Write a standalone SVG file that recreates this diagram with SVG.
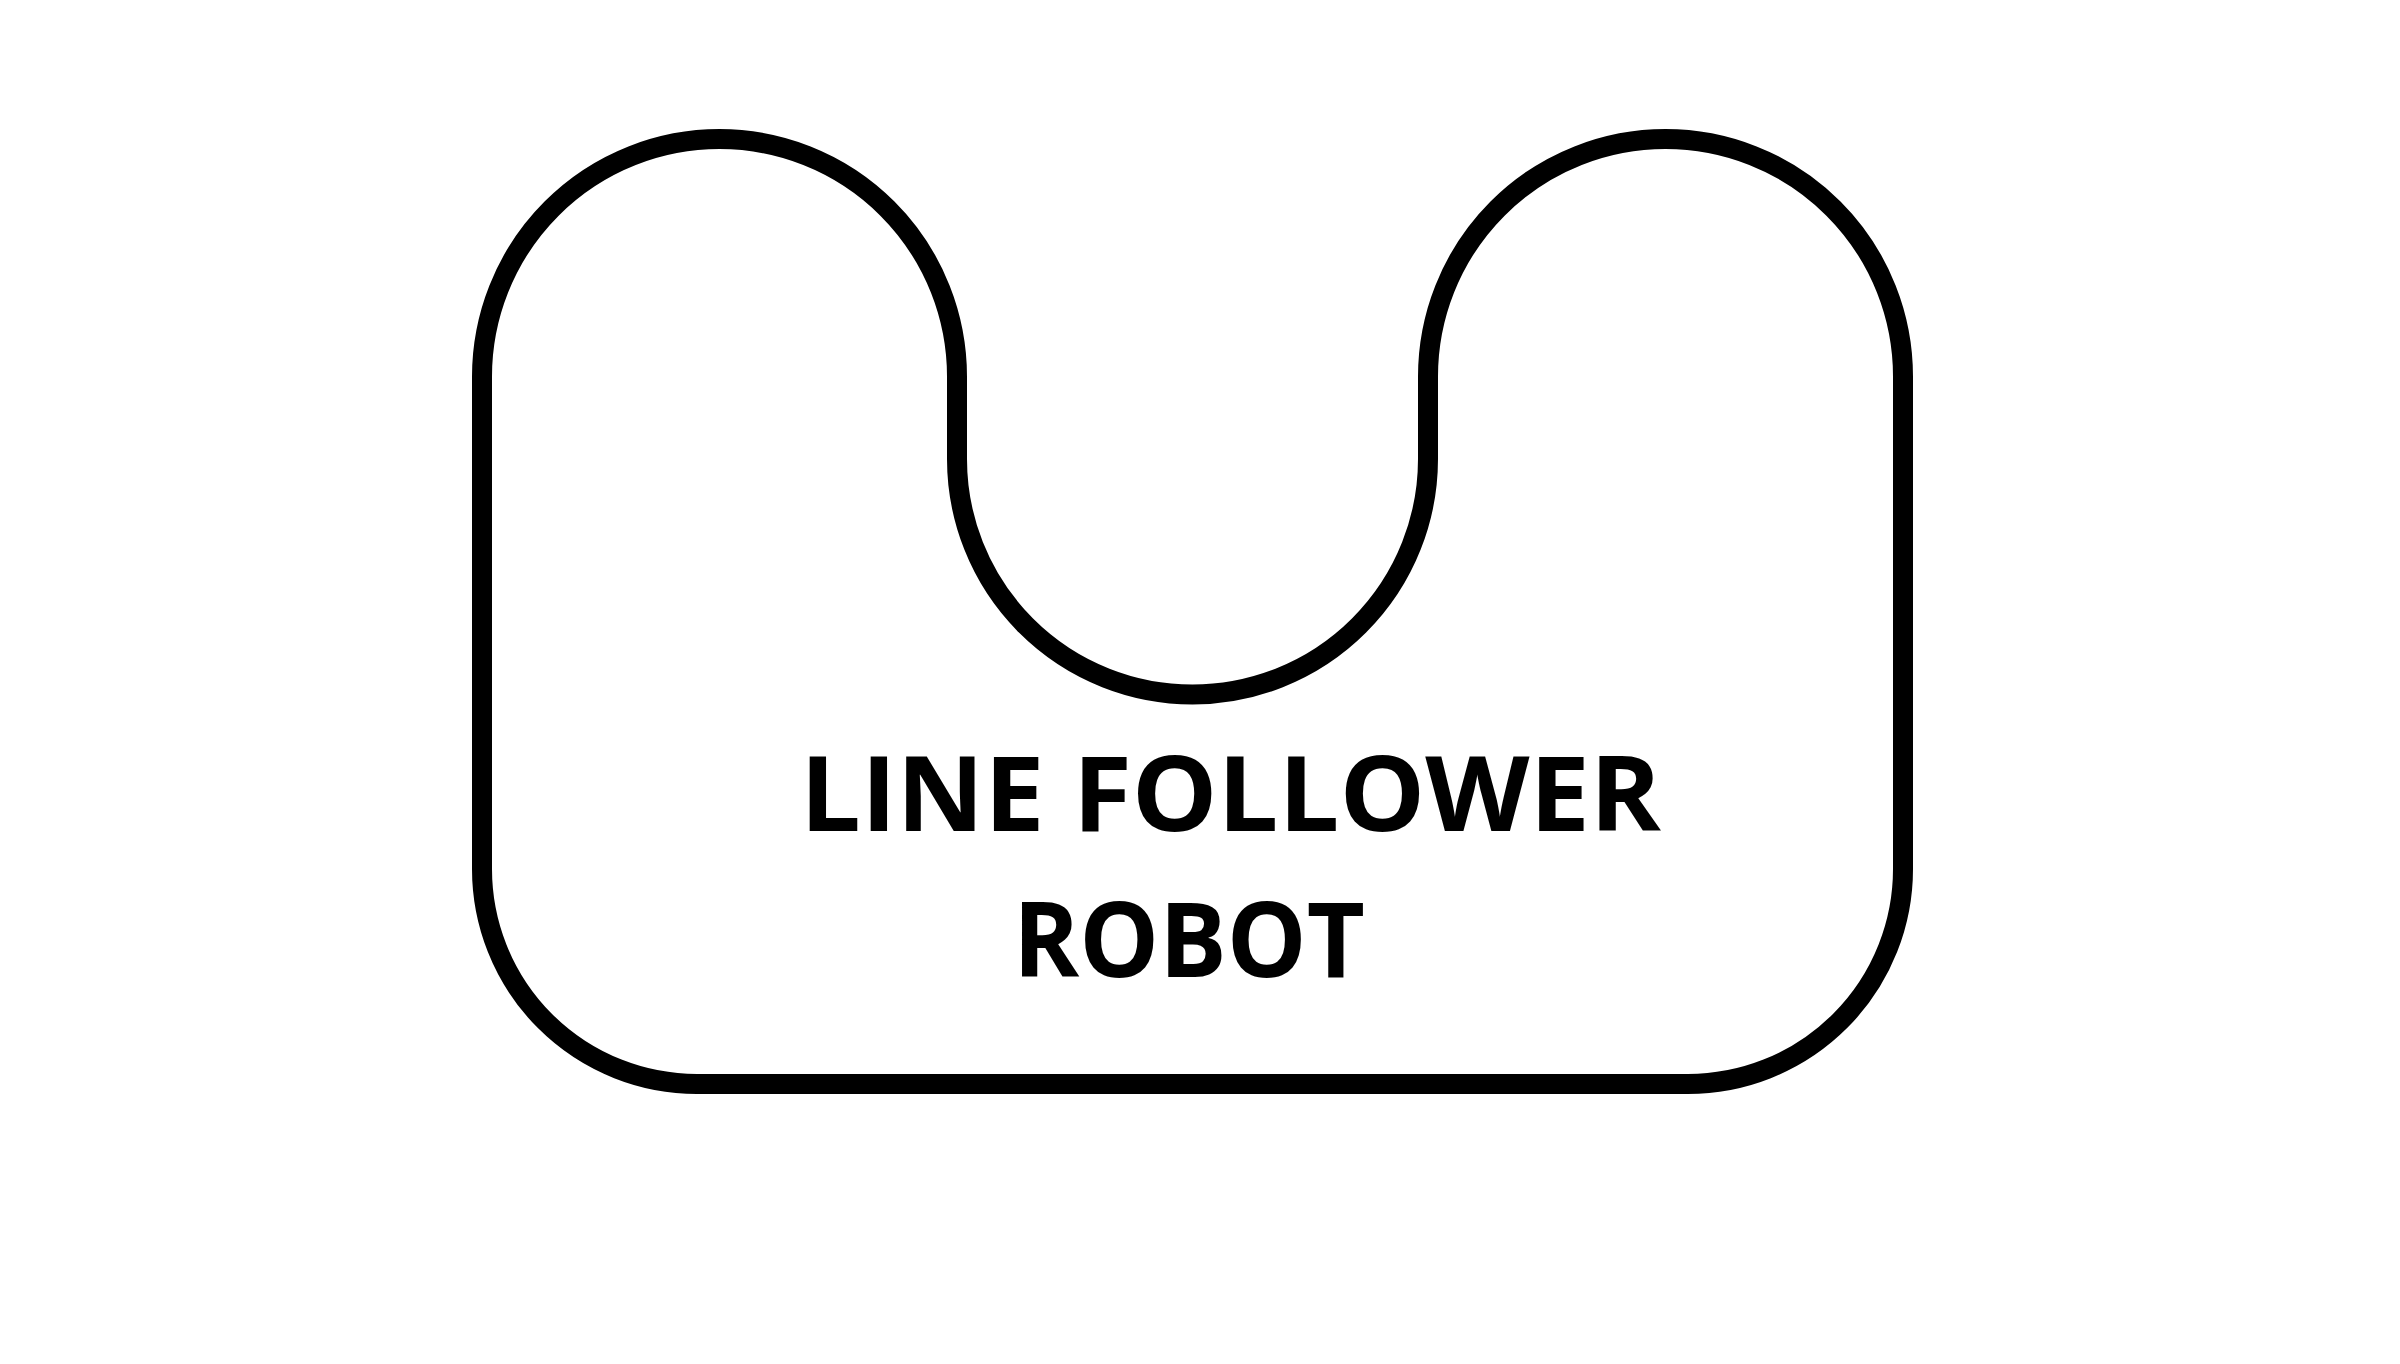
<svg xmlns="http://www.w3.org/2000/svg" width="2400" height="1364" viewBox="0 0 2400 1364">
<style>
.track{fill:none;stroke:#000;stroke-width:20;stroke-linejoin:round;stroke-linecap:round}
.lbl{font-family:"Open Sans","DejaVu Sans",sans-serif;font-weight:700;font-size:104px;fill:#000}
</style>
<rect width="2400" height="1364" fill="#fff"/>
<g id="track">
<path class="track" d="M 482 376.5 A 237.5 237.5 0 0 1 957 376.5 L 957 459 A 235.5 235.5 0 0 0 1428 459 L 1428 376.5 A 237.5 237.5 0 0 1 1903 376.5 L 1903 869 A 215 215 0 0 1 1688 1084 L 697 1084 A 215 215 0 0 1 482 869 Z"/>
</g>
<g id="label">
<text class="lbl" x="800" y="831" textLength="861" lengthAdjust="spacingAndGlyphs">LINE FOLLOWER</text>
<text class="lbl" x="1013" y="977" textLength="352" lengthAdjust="spacingAndGlyphs">ROBOT</text>
</g>
</svg>
